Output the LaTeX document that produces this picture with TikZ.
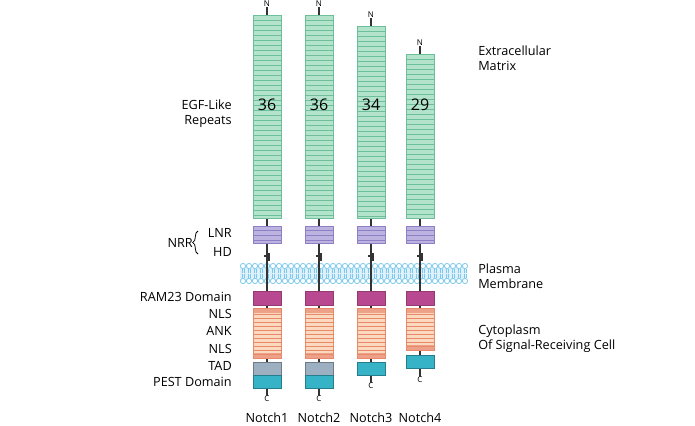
\documentclass[tikz,border=0pt]{standalone}
\usepackage{fontspec}
\setmainfont{Open Sans}
\usetikzlibrary{decorations.pathreplacing}
\definecolor{egf}{HTML}{B4E3CC}\definecolor{egfl}{HTML}{6DBE9B}
\definecolor{lnr}{HTML}{BDB3E0}\definecolor{lnrl}{HTML}{8E80C4}
\definecolor{ram}{HTML}{B8488F}\definecolor{ank}{HTML}{FAD9BE}\definecolor{ankl}{HTML}{E8896B}
\definecolor{tad}{HTML}{9DB0C2}\definecolor{pest}{HTML}{36B3C7}\definecolor{mem}{HTML}{7CC8EC}
\begin{document}
\begin{tikzpicture}[x=0.75pt,y=-0.75pt,font=\fontsize{9.5}{11}\selectfont,
  box/.style={draw=#1,line width=0.6pt,minimum width=21pt,inner sep=0,anchor=north},
  lab/.style={anchor=east,inner sep=0},
  rlab/.style={anchor=west,inner sep=0,align=left},
  stem/.style={line width=1pt,black!80}]
\useasboundingbox (0,0) rectangle (695,425);
% membrane
\fill[mem!25] (240,266) rectangle (466,281);
\foreach \i in {0,...,37}{
  \draw[mem,line width=0.6pt,fill=white] (243+\i*6,266) circle (2.6);
  \draw[mem,line width=0.6pt,fill=white] (243+\i*6,281) circle (2.6);
  \draw[mem,line width=0.4pt] (242+\i*6,269)--(242+\i*6,273) (244+\i*6,269)--(244+\i*6,273)
        (242+\i*6,274)--(242+\i*6,278) (244+\i*6,274)--(244+\i*6,278);}
% columns: index/x/egf top/ank bottom/type
\foreach \n/\x/\t/\ab/\ty in {1/267/15/358/1,2/319/15/358/1,3/371/26/358/2,4/420/54/350/3}{
  \pgfmathsetmacro{\h}{(218-\t)*0.75}
  \node[box=egfl,fill=egf,minimum height=\h pt] (e\n) at (\x,\t) {};
  \pgfmathtruncatemacro{\k}{(218-\t)/5}
  \foreach \j in {1,...,\k}{\draw[egfl,line width=0.5pt] (\x-14,\t+\j*5)--(\x+14,\t+\j*5);}
  \node[inner sep=0] (n\n) at (\x,\t-11) {\fontsize{6}{6}\selectfont N};
  \draw[stem] (n\n.south)--(e\n.north);
  \node[box=lnrl,fill=lnr,minimum height=13pt] (l\n) at (\x,226) {};
  \foreach \j in {230,235,240}{\draw[lnrl,line width=0.5pt] (\x-14,\j)--(\x+14,\j);}
  \draw[stem] (e\n.south)--(l\n.north);
  \node[box=ram!80!black,fill=ram,minimum height=10.5pt] (r\n) at (\x,291) {};
  \draw[stem] (l\n.south)--(r\n.north);
  \draw[stem] (\x-3,256)--(\x+3,256) (\x+2,253)--(\x+2,261);
  \pgfmathsetmacro{\ah}{(\ab-308)*0.75}
  \node[box=ankl,fill=ank,minimum height=\ah pt] (a\n) at (\x,308) {};
  \fill[ankl!80] (\x-14,308) rectangle (\x+14,313);
  \fill[ankl!80] (\x-14,\ab-5) rectangle (\x+14,\ab);
  \pgfmathtruncatemacro{\m}{(\ab-318)/4}
  \foreach \j in {0,...,\m}{\draw[ankl,line width=0.5pt] (\x-14,314+\j*4)--(\x+14,314+\j*4);}
  \draw[ankl,line width=0.6pt] (\x-14,308) rectangle (\x+14,\ab);
  \draw[stem] (r\n.south)--(a\n.north);
}
% C-terminal parts
\foreach \n/\x in {1/267,2/319}{
  \node[box=tad!70!black,fill=tad,minimum height=10pt] (t\n) at (\x,362) {};
  \node[box=pest!70!black,fill=pest,minimum height=10pt] (p\n) at (\x,375) {};
  \node[inner sep=0] (c\n) at (\x,399) {\fontsize{6}{6}\selectfont C};
  \draw[stem] (a\n.south)--(t\n.north) (p\n.south)--(c\n.north);}
\node[box=pest!70!black,fill=pest,minimum height=10pt] (p3) at (371,362) {};
\node[inner sep=0] (c3) at (371,386) {\fontsize{6}{6}\selectfont C};
\draw[stem] (a3.south)--(p3.north) (p3.south)--(c3.north);
\node[box=pest!70!black,fill=pest,minimum height=10pt] (p4) at (420,355) {};
\node[inner sep=0] (c4) at (420,380) {\fontsize{6}{6}\selectfont C};
\draw[stem] (a4.south)--(p4.north) (p4.south)--(c4.north);
% numbers
\foreach \n/\x/\v in {1/267/36,2/319/36,3/371/34,4/420/29}{\node[font=\fontsize{12}{12}\selectfont] (v\n) at (\x,105) {\v};}
% labels
\node[lab,align=right] (egfl) at (232,114) {EGF-Like\\Repeats};
\node[lab] (lnrt) at (232,233) {LNR};
\node[lab] (hdt) at (232,252) {HD};
\draw[line width=0.6pt,decorate,decoration={brace,amplitude=4pt}] (198,254)--(198,231);
\node[lab] (nrr) at (193,243) {NRR};
\foreach \y/\t in {297/RAM23 Domain,314/NLS,331/ANK,349/NLS,366/TAD,382/PEST Domain}{\node[lab] at (232,\y) {\t};}
\node[rlab] (ex) at (478,58) {Extracellular\\Matrix};
\node[rlab] (pm) at (478,276) {Plasma\\Membrane};
\node[rlab] (cy) at (478,339) {Cytoplasm\\Of Signal-Receiving Cell};
\foreach \n/\x in {1/267,2/319,3/371,4/420}{\node (b\n) at (\x,418) {Notch\n};}
\end{tikzpicture}
\end{document}
